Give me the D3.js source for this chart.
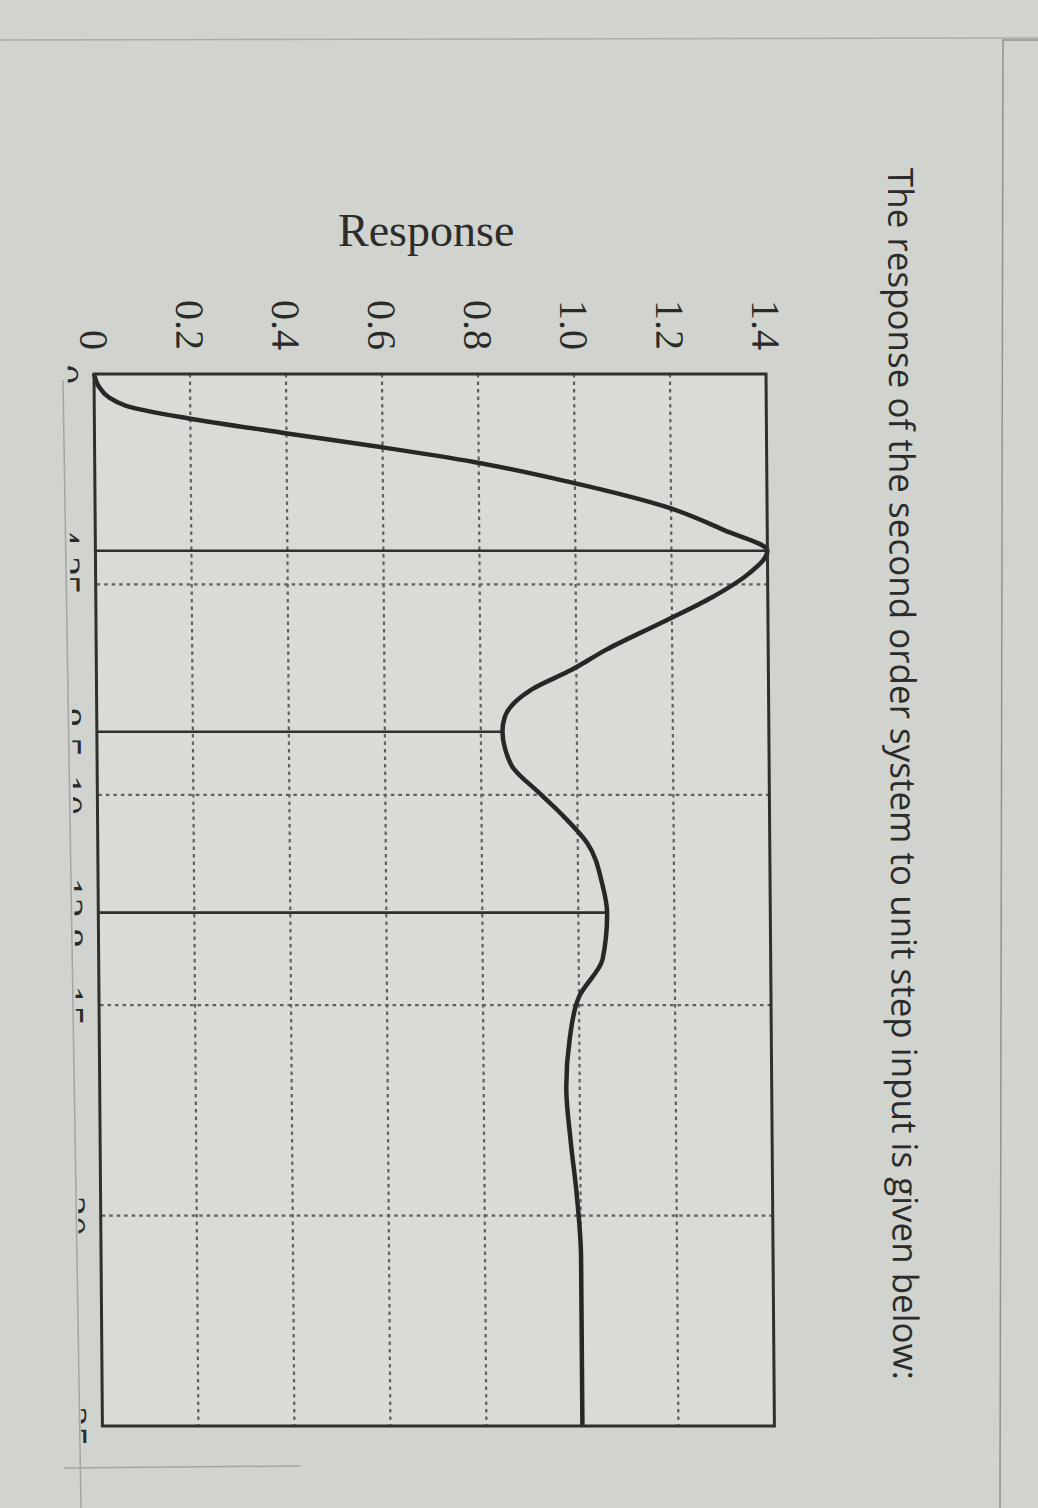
<!DOCTYPE html>
<html><head><meta charset="utf-8">
<script src="https://cdn.jsdelivr.net/npm/d3@7"></script>
<style>html,body{margin:0;padding:0;background:#d0d3ce;} svg{display:block}</style>
</head><body><svg id="c" width="1038" height="1508"></svg>
<script>
// ---- data ----
const titleText = "The response of the second order system to unit step input is given below:";
const yAxisTitle = "Response";
const responseTicks = [0, 0.2, 0.4, 0.6, 0.8, 1.0, 1.2, 1.4];
const timeTicks = [0, 5, 10, 15, 20, 25];
const timeTickLabels = ["0", "5", "10", "15", "20", "25"];
const peakTimes = [4.2, 8.5, 12.8];
const peakValues = [1.4, 0.845, 1.06];
const peakLabels = ["4.2", "8.5", "12.8"];
const curveTime = [0, 0.3, 0.55, 0.75, 0.9, 1.05, 1.4, 1.73, 2.09, 2.57, 3.16, 3.71, 4.2, 4.75, 5.3, 5.9, 6.55, 7.03, 7.5, 8.15, 8.5, 8.9, 9.35, 9.95, 10.5, 11.15, 12.1, 12.8, 13.9, 14.8, 15.8, 17.0, 18.2, 19.5, 21, 23, 25];
const curveResponse = [0, 0.01, 0.03, 0.065, 0.12, 0.194, 0.394, 0.592, 0.79, 0.99, 1.19, 1.31, 1.4, 1.36, 1.285, 1.18, 1.063, 0.99, 0.906, 0.85, 0.845, 0.85, 0.866, 0.92, 0.97, 1.02, 1.05, 1.06, 1.05, 1.0, 0.98, 0.972, 0.98, 0.992, 1.0, 1.0, 1.0];

// ---- layout ----
const W = 1052, H = 672;
const svg = d3.select("#c");
svg.append("rect").attr("width", 1038).attr("height", 1508).attr("fill", "#d0d3ce");

// screen / window edges in the photo
svg.append("line").attr("x1", 0).attr("y1", 40).attr("x2", 1038).attr("y2", 38)
  .attr("stroke", "#a9aca7").attr("stroke-width", 1.5);
svg.append("path").attr("d", "M1038,40 L1003,40 L1000,1508").attr("fill", "none")
  .attr("stroke", "#8f928d").attr("stroke-width", 1.5);
svg.append("line").attr("x1", 63).attr("y1", 380).attr("x2", 81).attr("y2", 1508)
  .attr("stroke", "#a3a6a1").attr("stroke-width", 1.5);
svg.append("line").attr("x1", 64).attr("y1", 1468).attr("x2", 300).attr("y2", 1466)
  .attr("stroke", "#a3a6a1").attr("stroke-width", 1.5);

const defs = svg.append("defs");
defs.append("clipPath").attr("id", "win").append("polygon")
  .attr("points", "63,0 1038,0 1038,1508 82,1508");

const x = d3.scaleLinear().domain([0, 25]).range([0, W]);
const y = d3.scaleLinear().domain([0, 1.4]).range([H, 0]);

const outer = svg.append("g").attr("clip-path", "url(#win)");
const g = outer.append("g").attr("transform", "matrix(0.008,1,-1,0,766,374)");

g.append("rect").attr("width", W).attr("height", H).attr("fill", "#d8dbd6");

// dotted grid
g.append("g").selectAll("line").data(responseTicks.filter(d => d > 0 && d < 1.4)).join("line")
  .attr("x1", 0).attr("x2", W).attr("y1", d => y(d)).attr("y2", d => y(d))
  .attr("stroke", "#5f615e").attr("stroke-width", 2.2).attr("stroke-dasharray", "3.5 4");
g.append("g").selectAll("line").data(timeTicks.filter(d => d > 0 && d < 25)).join("line")
  .attr("x1", d => x(d)).attr("x2", d => x(d)).attr("y1", 0).attr("y2", H)
  .attr("stroke", "#5f615e").attr("stroke-width", 2.2).attr("stroke-dasharray", "3.5 4");

// peak lines
g.append("g").selectAll("line").data(peakTimes).join("line")
  .attr("x1", d => x(d)).attr("x2", d => x(d))
  .attr("y1", H).attr("y2", (d, i) => y(peakValues[i]))
  .attr("stroke", "#2e302d").attr("stroke-width", 2.6);

// curve
const pts = curveTime.map((t, i) => [t, curveResponse[i]]);
g.append("path").datum(pts)
  .attr("d", d3.line().x(d => x(d[0])).y(d => y(d[1])).curve(d3.curveMonotoneX))
  .attr("fill", "none").attr("stroke", "#262825").attr("stroke-width", 4.5)
  .attr("stroke-linejoin", "round");

// frame
g.append("rect").attr("width", W).attr("height", H).attr("fill", "none")
  .attr("stroke", "#2e302d").attr("stroke-width", 3);

// response axis
const yAxis = d3.axisLeft(y).tickValues(responseTicks).tickSize(0).tickPadding(24)
  .tickFormat(d => d === 0 ? "0" : d.toFixed(1));
const ya = g.append("g").call(yAxis);
ya.select(".domain").remove();
ya.selectAll("text").attr("font-family", "'Liberation Serif', 'Times New Roman', serif")
  .attr("font-size", 40).attr("fill", "#2a2b29");

// time axis (cut off by window edge in the photo)
const allTimeTicks = timeTicks.concat(peakTimes);
const allTimeLabels = timeTickLabels.concat(peakLabels);
const xAxis = d3.axisBottom(x).tickValues(allTimeTicks).tickSize(0).tickPadding(14)
  .tickFormat(d => allTimeLabels[allTimeTicks.indexOf(d)]);
const xa = g.append("g").attr("transform", `translate(0,${H})`).call(xAxis);
xa.select(".domain").remove();
xa.selectAll("text").attr("font-family", "'Liberation Serif', 'Times New Roman', serif")
  .attr("font-size", 40).attr("fill", "#2a2b29");

// axis title (upright on screen)
svg.append("text").attr("x", 338).attr("y", 246)
  .attr("font-family", "'Liberation Serif', 'Times New Roman', serif")
  .attr("font-size", 46).attr("fill", "#2c2d2b").text(yAxisTitle);

// title
svg.append("text").attr("transform", "translate(888,168) rotate(89.75)")
  .attr("font-family", "'Open Sans', sans-serif").attr("font-size", 35)
  .attr("fill", "#2b2c2a").text(titleText);
</script></body></html>
